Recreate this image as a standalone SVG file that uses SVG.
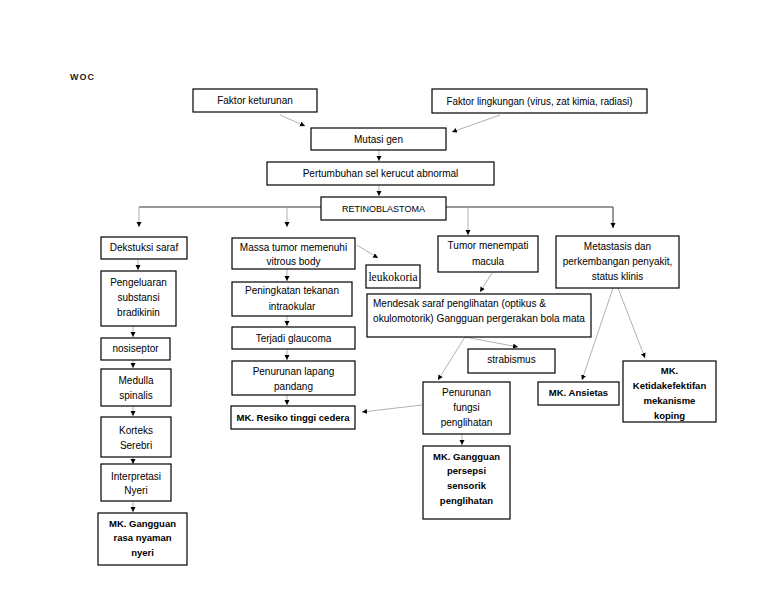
<svg xmlns="http://www.w3.org/2000/svg" width="768" height="594" viewBox="0 0 768 594">
<style>
.b{fill:#fff;stroke:#000;stroke-width:1.2}
.t{font-family:"Liberation Sans",Arial,sans-serif;font-size:10px;fill:#000;text-anchor:middle}
.bd{font-weight:bold;font-size:9.5px}
.c{fill:none;stroke:#a8a8a8;stroke-width:0.9}
.k{fill:none;stroke:#333;stroke-width:1}
</style>
<defs>
<marker id="a" markerUnits="userSpaceOnUse" markerWidth="6" markerHeight="6" refX="5" refY="2.5" orient="auto">
<path d="M0,0 L5,2.5 L0,5 Z" fill="#000"/>
</marker>
</defs>
<rect width="768" height="594" fill="#fff"/>
<text x="70" y="80" style="font-family:'Liberation Sans',Arial,sans-serif;font-size:9px;font-weight:bold;letter-spacing:1px;fill:#222">WOC</text>

<g id="connectors">
<line class="c" x1="280" y1="115" x2="305" y2="126" marker-end="url(#a)"/>
<line class="c" x1="500" y1="115" x2="452" y2="132" marker-end="url(#a)"/>
<line class="c" x1="379" y1="150" x2="379" y2="161" marker-end="url(#a)"/>
<line class="c" x1="379" y1="185" x2="379" y2="196" marker-end="url(#a)"/>
<line class="k" x1="321" y1="207" x2="139" y2="207"/>
<line class="c" x1="139" y1="207" x2="139" y2="227" marker-end="url(#a)"/>
<line class="c" x1="287" y1="207" x2="287" y2="227" marker-end="url(#a)"/>
<polyline class="k" points="446,207 613,207 613,228" marker-end="url(#a)"/>
<line class="c" x1="468" y1="207" x2="468" y2="235" marker-end="url(#a)"/>
<line class="c" x1="138" y1="259" x2="138" y2="270" marker-end="url(#a)"/>
<line class="c" x1="133" y1="326" x2="133" y2="337" marker-end="url(#a)"/>
<line class="c" x1="133" y1="360" x2="133" y2="368" marker-end="url(#a)"/>
<line class="c" x1="133" y1="406" x2="133" y2="416" marker-end="url(#a)"/>
<line class="c" x1="133" y1="457" x2="133" y2="464" marker-end="url(#a)"/>
<line class="c" x1="133" y1="501" x2="133" y2="512" marker-end="url(#a)"/>
<line class="c" x1="287" y1="269" x2="287" y2="281" marker-end="url(#a)"/>
<line class="c" x1="287" y1="316" x2="287" y2="326" marker-end="url(#a)"/>
<line class="c" x1="287" y1="349" x2="287" y2="360" marker-end="url(#a)"/>
<line class="c" x1="287" y1="395" x2="287" y2="405" marker-end="url(#a)"/>
<line class="c" x1="357" y1="245" x2="378" y2="258" marker-end="url(#a)"/>
<line class="c" x1="492" y1="273" x2="480" y2="292" marker-end="url(#a)"/>
<line class="c" x1="465" y1="337" x2="518" y2="347" marker-end="url(#a)"/>
<line class="c" x1="465" y1="337" x2="438" y2="380" marker-end="url(#a)"/>
<line class="c" x1="422" y1="405" x2="362" y2="412" marker-end="url(#a)"/>
<line class="c" x1="462" y1="434" x2="462" y2="445" marker-end="url(#a)"/>
<line class="c" x1="613" y1="288" x2="582" y2="380" marker-end="url(#a)"/>
<line class="c" x1="618" y1="288" x2="645" y2="358" marker-end="url(#a)"/>
</g>

<g id="faktor-keturunan"><rect class="b" x="193" y="89" width="124" height="23"/><text class="t" x="255" y="104">Faktor keturunan</text></g>
<g id="faktor-lingkungan"><rect class="b" x="432" y="89" width="215" height="24"/><text class="t" x="539.5" y="104.5" textLength="186" lengthAdjust="spacingAndGlyphs">Faktor lingkungan (virus, zat kimia, radiasi)</text></g>
<g id="mutasi-gen"><rect class="b" x="311" y="128" width="135" height="22"/><text class="t" x="378.5" y="142.5">Mutasi gen</text></g>
<g id="pertumbuhan"><rect class="b" x="267" y="162" width="227" height="23"/><text class="t" x="380.5" y="177">Pertumbuhan sel kerucut abnormal</text></g>
<g id="retinoblastoma"><rect class="b" x="321" y="197" width="125" height="23"/><text class="t" x="383.5" y="211.5" style="font-size:9px">RETINOBLASTOMA</text></g>

<g id="dekstuksi"><rect class="b" x="101" y="237" width="86" height="22"/><text class="t" x="144" y="251">Dekstuksi saraf</text></g>
<g id="pengeluaran"><rect class="b" x="101" y="271" width="75" height="55"/><text class="t" x="138.5" y="285.5">Pengeluaran</text><text class="t" x="138.5" y="300.5">substansi</text><text class="t" x="138.5" y="315.5">bradikinin</text></g>
<g id="nosiseptor"><rect class="b" x="101" y="338" width="69" height="22"/><text class="t" x="135.5" y="352">nosiseptor</text></g>
<g id="medulla"><rect class="b" x="101" y="369" width="70" height="37"/><text class="t" x="136" y="383.5">Medulla</text><text class="t" x="136" y="398.5">spinalis</text></g>
<g id="korteks"><rect class="b" x="101" y="417" width="70" height="40"/><text class="t" x="136" y="433.5">Korteks</text><text class="t" x="136" y="448.5">Serebri</text></g>
<g id="interpretasi"><rect class="b" x="101" y="464" width="70" height="37"/><text class="t" x="136" y="479.5">Interpretasi</text><text class="t" x="136" y="493.5">Nyeri</text></g>
<g id="mk-nyeri"><rect class="b" x="98" y="513" width="89" height="52"/><text class="t bd" x="142.5" y="526.5">MK. Gangguan</text><text class="t bd" x="142.5" y="540.5">rasa nyaman</text><text class="t bd" x="142.5" y="555.5">nyeri</text></g>

<g id="massa-tumor"><rect class="b" x="232" y="238" width="123" height="31"/><text class="t" x="293.5" y="250.5">Massa tumor memenuhi</text><text class="t" x="293.5" y="264.5">vitrous body</text></g>
<g id="peningkatan"><rect class="b" x="232" y="282" width="120" height="34"/><text class="t" x="292" y="293.5">Peningkatan tekanan</text><text class="t" x="292" y="309.5">intraokular</text></g>
<g id="glaucoma"><rect class="b" x="232" y="327" width="123" height="22"/><text class="t" x="293.5" y="341.5">Terjadi glaucoma</text></g>
<g id="lapang-pandang"><rect class="b" x="232" y="361" width="123" height="34"/><text class="t" x="293.5" y="374.5">Penurunan lapang</text><text class="t" x="293.5" y="389.5">pandang</text></g>
<g id="mk-cedera"><rect class="b" x="231" y="406" width="124" height="23"/><text class="t bd" x="293" y="421">MK. Resiko tinggi cedera</text></g>

<g id="leukokoria"><rect class="b" x="366" y="265" width="54" height="23"/><text x="393" y="280.5" style="font-family:'Liberation Serif','Times New Roman',serif;font-size:11.5px;text-anchor:middle">leukokoria</text></g>
<g id="mendesak"><rect class="b" x="367" y="294" width="224" height="43"/><text class="t" x="373" y="306.5" style="text-anchor:start">Mendesak saraf penglihatan (optikus &amp;</text><text class="t" x="373" y="321.5" style="text-anchor:start" textLength="212" lengthAdjust="spacingAndGlyphs">okulomotorik) Gangguan pergerakan bola mata</text></g>
<g id="tumor-macula"><rect class="b" x="438" y="236" width="100" height="36"/><text class="t" x="488" y="248.5">Tumor menempati</text><text class="t" x="488" y="264.5">macula</text></g>
<g id="metastasis"><rect class="b" x="556" y="236" width="123" height="52"/><text class="t" x="617.5" y="249.5">Metastasis dan</text><text class="t" x="617.5" y="264.5">perkembangan penyakit,</text><text class="t" x="617.5" y="279.5">status klinis</text></g>
<g id="strabismus"><rect class="b" x="468" y="349" width="87" height="24"/><text class="t" x="511.5" y="362.5">strabismus</text></g>
<g id="fungsi-penglihatan"><rect class="b" x="423" y="382" width="87" height="52"/><text class="t" x="466.5" y="395.5">Penurunan</text><text class="t" x="466.5" y="410.5">fungsi</text><text class="t" x="466.5" y="425.5">penglihatan</text></g>
<g id="mk-persepsi"><rect class="b" x="423" y="446" width="87" height="73"/><text class="t bd" x="466.5" y="459.5">MK. Gangguan</text><text class="t bd" x="466.5" y="473.5">persepsi</text><text class="t bd" x="466.5" y="488.5">sensorik</text><text class="t bd" x="466.5" y="503.5">penglihatan</text></g>
<g id="mk-ansietas"><rect class="b" x="538" y="382" width="81" height="23"/><text class="t bd" x="578.5" y="395.5">MK. Ansietas</text></g>
<g id="mk-koping"><rect class="b" x="623" y="361" width="93" height="61"/><text class="t bd" x="669.5" y="373.5">MK.</text><text class="t bd" x="669.5" y="388.5">Ketidakefektifan</text><text class="t bd" x="669.5" y="403.5">mekanisme</text><text class="t bd" x="669.5" y="418.5">koping</text></g>
</svg>
